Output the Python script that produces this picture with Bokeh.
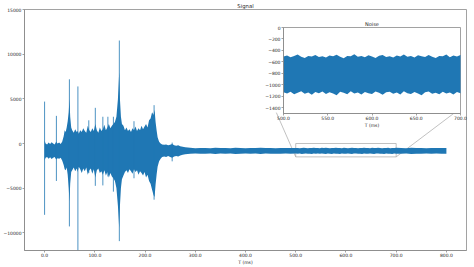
from bokeh.plotting import figure
from bokeh.models import Range1d, FixedTicker, NumeralTickFormatter, CustomJSTickFormatter
from bokeh.layouts import column
from bokeh.embed import file_html
from bokeh.resources import INLINE

# ---------------- data ----------------
# envelope of the dense signal: time (ms), upper and lower extent
t_ms = [0, 2, 5, 8, 11, 14, 17, 20, 23, 26, 29, 32, 35, 38, 40, 42, 44, 46, 48, 49.5,
        51, 53, 55, 58, 61, 64, 66, 68, 71, 74, 77, 80, 83, 86, 89, 92, 95, 98, 101, 104,
        107, 110, 113, 116, 119, 122, 125, 128, 131, 134, 137, 140, 143, 146, 148.5, 150, 152, 154, 157, 160,
        163, 166, 169, 172, 175, 178, 181, 184, 187, 190, 193, 196, 199, 202, 205, 208, 211, 214, 217, 219,
        221, 223, 225, 228, 231, 234, 238, 242, 246, 250, 254, 258, 262, 266, 270, 275, 280,
        290, 300, 310, 320, 330, 340, 350, 360, 370, 380, 390, 400, 410, 420, 430, 440, 450, 460, 470, 480, 490,
        500, 504, 508, 512, 516, 520, 524, 528, 532, 536,
        540, 544, 548, 552, 556, 560, 564, 568, 572, 576,
        580, 584, 588, 592, 596, 600, 604, 608, 612, 616,
        620, 624, 628, 632, 636, 640, 644, 648, 652, 656,
        660, 664, 668, 672, 676, 680, 684, 688, 692, 696,
        700,
        710, 720, 730, 740, 750, 760, 770, 780, 790, 800]
upper = [300, 0, -100, 100, -50, 150, 0, -100, 200, 0, 100, -50, 200, 800, 1500, 1300, 1800, 2500, 3500, 5000,
         3000, 1800, 1500, 1200, 1600, 1300, 1400, 1100, 1500, 1300, 1700, 1400, 1200, 2000, 1500, 1300, 1700, 1400, 2200, 1500,
         1200, 1800, 1400, 1600, 2100, 1500, 1800, 2200, 1700, 2000, 2200, 2400, 3000, 5000, 8000, 5000, 3000, 2200, 2000, 1500,
         1800, 1400, 1600, 1300, 1700, 1500, 1900, 1400, 1700, 1500, 2000, 1600, 1900, 2200, 1800, 2600, 2800, 3500, 3200, 3800,
         2400, 1500, 700, 200, 0, -100, -150, -100, -200, -150, -50, -200, -250, -200, -300, -350, -420,
         -470, -520, -490, -505, -530, -480, -510, -495, -520, -485, -500, -530, -490, -505, -475, -515, -500, -525, -490, -505, -515,
         -505, -490, -520, -498, -470, -512, -530, -495, -505, -480,
         -515, -500, -525, -488, -502, -475, -510, -535, -495, -500,
         -468, -512, -497, -520, -485, -505, -530, -492, -478, -515,
         -500, -522, -490, -505, -470, -512, -498, -525, -485, -503,
         -515, -480, -508, -530, -495, -500, -472, -518, -490, -505,
         -480,
         -495, -520, -485, -510, -500, -530, -490, -505, -515, -500]
lower = [-1900, -1600, -1500, -1700, -1550, -1750, -1600, -1500, -1800, -1650, -1700, -1600, -1900, -2400, -2900, -3000, -2700, -3500, -5000, -6500,
         -4500, -3200, -3000, -2700, -3100, -2800, -3200, -2600, -2900, -3300, -2800, -3100, -2700, -3500, -3000, -2800, -3400, -2900, -3800, -3000,
         -2800, -3300, -3100, -3500, -3000, -3600, -3200, -3800, -3300, -3700, -3900, -4200, -5000, -7000, -9500, -7000, -5000, -4000, -3600, -3200,
         -3000, -3300, -2900, -3100, -3400, -2900, -3200, -3000, -3500, -3100, -3300, -3600, -3200, -3800, -3500, -4200, -4500, -5200, -5800, -6000,
         -4600, -3500, -2600, -2000, -1700, -1500, -1450, -1500, -1400, -1500, -1600, -1450, -1400, -1450, -1350, -1250, -1200,
         -1150, -1120, -1160, -1135, -1110, -1170, -1130, -1145, -1120, -1165, -1140, -1115, -1155, -1130, -1170, -1125, -1150, -1135, -1160, -1120, -1145,
         -1130, -1150, -1120, -1165, -1140, -1110, -1155, -1135, -1175, -1125,
         -1145, -1115, -1160, -1130, -1150, -1180, -1120, -1140, -1165, -1110,
         -1150, -1135, -1170, -1125, -1145, -1160, -1115, -1140, -1175, -1130,
         -1120, -1155, -1135, -1170, -1110, -1145, -1160, -1125, -1150, -1180,
         -1130, -1115, -1155, -1140, -1165, -1120, -1150, -1135, -1170, -1125,
         -1145,
         -1140, -1120, -1165, -1135, -1150, -1115, -1160, -1130, -1145, -1135]

# isolated spikes: time (ms), top, bottom
spike_t = [0, 23.5, 49.4, 66.3, 88, 101, 116, 126, 137, 148.8, 178, 218, 254]
spike_hi = [4700, 3100, 7200, 6400, 2600, 4000, 3000, 3000, 3000, 11550, 2500, 4300, 100]
spike_lo = [-8000, -4200, -9300, -12500, -3300, -4750, -4700, -3700, -5400, -10950, -3900, -6300, -2000]

main_xlim = [-40, 840]
main_ylim = [-12000, 15030]
main_xticks = [0, 100, 200, 300, 400, 500, 600, 700, 800]
main_yticks = [-10000, -5000, 0, 5000, 10000, 15000]

noise_xlim = [500, 700]
noise_ylim = [-1500, 0]
noise_xticks = [500, 550, 600, 650, 700]
noise_yticks = [0, -200, -400, -600, -800, -1000, -1200, -1400]

# ---------------- style / layout ----------------
BLUE = "#1f77b4"
FONT = "DejaVu Sans"
AX = "#8a8a8a"
TXT = "#262626"
W, H = 474, 267
FL, FR, FT, FB = 21, 472, 9, 252          # main frame (px)
IL, IR, IT, IB = 278, 460, 27, 113        # inset frame (px)
PL, PR, PT, PB = 19, 8, 9, 17             # inset borders

minus_fmt = "return tick < 0 ? '\\u2212' + Math.abs(tick) : String(tick);"


def style(p, xticks, yticks, title_size):
    p.xgrid.visible = False
    p.ygrid.visible = False
    p.outline_line_color = AX
    p.outline_line_width = 0.8
    p.title.align = "center"
    p.title.text_font = FONT
    p.title.text_font_size = title_size
    p.title.text_font_style = "normal"
    p.title.text_color = TXT
    p.title.text_line_height = 1.0
    p.title.standoff = 1
    p.title.offset = 0
    p.xaxis.ticker = FixedTicker(ticks=xticks)
    p.yaxis.ticker = FixedTicker(ticks=yticks)
    p.xaxis.formatter = NumeralTickFormatter(format="0.0")
    p.yaxis.formatter = CustomJSTickFormatter(code=minus_fmt)
    for ax in (p.xaxis[0], p.yaxis[0]):
        ax.axis_line_color = AX
        ax.axis_line_width = 0.8
        ax.major_tick_line_color = AX
        ax.major_tick_line_width = 0.8
        ax.major_tick_out = 2
        ax.major_tick_in = 0
        ax.minor_tick_line_color = None
        ax.major_label_text_font = FONT
        ax.major_label_text_font_size = "4.5px"
        ax.major_label_text_color = TXT
        ax.major_label_text_line_height = 1.0
        ax.major_label_standoff = 1
        ax.axis_label_text_font = FONT
        ax.axis_label_text_font_size = "4.5px"
        ax.axis_label_text_font_style = "normal"
        ax.axis_label_text_color = TXT
        ax.axis_label_text_line_height = 1.0
        ax.axis_label_standoff = 0
    p.xaxis.axis_label = "T (ms)"
    p.xaxis.major_label_standoff = 0


main = figure(width=W, height=H, title="Signal",
              x_range=Range1d(*main_xlim), y_range=Range1d(*main_ylim),
              output_backend="svg", toolbar_location=None,
              min_border_left=FL, min_border_right=W - FR,
              min_border_top=FT, min_border_bottom=H - FB)
style(main, main_xticks, main_yticks, "5.3px")
main.background_fill_color = "white"
main.border_fill_color = "white"

# inset marker rectangle and connectors (derived from inset ranges and layout)
def to_main(px, py):
    x = main_xlim[0] + (px - FL) / (FR - FL) * (main_xlim[1] - main_xlim[0])
    y = main_ylim[1] - (py - FT) / (FB - FT) * (main_ylim[1] - main_ylim[0])
    return x, y

ll = to_main(IL, IB)
lr = to_main(IR, IB)
main.quad(left=[noise_xlim[0]], right=[noise_xlim[1]], bottom=[noise_ylim[0]], top=[noise_ylim[1]],
          fill_color=None, line_color="#a6a6a6", line_width=0.7)
main.segment(x0=[ll[0], lr[0]], y0=[ll[1], lr[1]],
             x1=[noise_xlim[0], noise_xlim[1]], y1=[noise_ylim[0], noise_ylim[0]],
             line_color="#a6a6a6", line_width=0.7)

main.varea(x=t_ms, y1=lower, y2=upper, fill_color=BLUE)
main.segment(x0=spike_t, y0=spike_lo, x1=spike_t, y1=spike_hi, line_color=BLUE, line_width=0.8)

# inset
inset = figure(width=PL + (IR - IL) + PR, height=PT + (IB - IT) + PB, title="Noise",
               x_range=Range1d(*noise_xlim), y_range=Range1d(*noise_ylim),
               output_backend="svg", toolbar_location=None,
               min_border_left=PL, min_border_right=PR, min_border_top=PT, min_border_bottom=PB)
style(inset, noise_xticks, noise_yticks, "5px")
inset.background_fill_color = "white"
inset.border_fill_alpha = 0
inset.varea(x=t_ms, y1=lower, y2=upper, fill_color=BLUE)
inset.styles = {"position": "absolute", "left": f"{IL - PL}px", "top": f"{IT - PT}px"}

layout = column(main, inset)
layout.styles = {"position": "relative"}

open("out.html", "w").write(file_html(layout, INLINE))
